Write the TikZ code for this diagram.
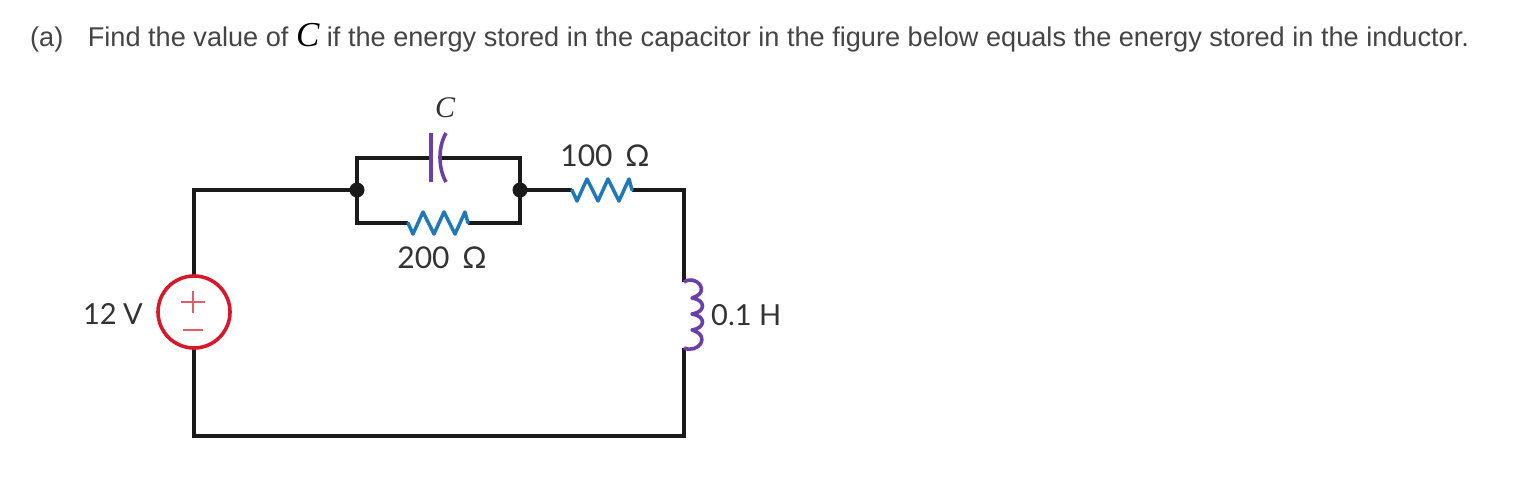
\documentclass[tikz,border=0pt]{standalone}
\usepackage{fontspec}
\setmainfont{Liberation Sans}
\newfontfamily\labelfont{Lato}
\newfontfamily\seriflabel{Liberation Serif}
\definecolor{wirecol}{HTML}{1A1A1A}
\definecolor{rescol}{HTML}{1F78B8}
\definecolor{purp}{HTML}{6A3FA8}
\definecolor{srccol}{HTML}{D7182A}
\definecolor{txt}{HTML}{444444}
\definecolor{lab}{HTML}{333333}
\tikzset{
  wire/.style={draw=wirecol,line width=4pt,line join=miter},
  res/.style={draw=rescol,line width=3.5pt,line join=round,line cap=round},
  comp/.style={draw=purp,line width=3.6pt},
  dotnode/.style={circle,fill=wirecol,inner sep=0pt,minimum size=15pt},
  clabel/.style={inner sep=0pt,text=lab,font=\labelfont\fontsize{29}{32}\selectfont},
  rlabel/.style={inner sep=0pt,text=lab,font=\labelfont\fontsize{30}{32}\selectfont},
}
\begin{document}
\begin{tikzpicture}[x=1pt,y=-1pt]
\useasboundingbox (0,0) rectangle (1516,477);
\fill[white] (0,0) rectangle (1516,477);
\node[anchor=west,inner sep=0pt,text=txt,font=\fontsize{27.14}{30}\selectfont] (q) at (30,38) {(a)\hspace{24.5pt}Find the value of {\seriflabel\itshape\fontsize{35}{35}\selectfont\color{black}C} if the energy stored in the capacitor in the figure below equals the energy stored in the inductor.};
% corners and terminals
\coordinate (tl) at (194,190);
\coordinate (bl) at (194,436);
\coordinate (br) at (684,436);
\coordinate (tr) at (684,190);
\coordinate (ut1) at (357,158);
\coordinate (ut2) at (520,158);
\coordinate (lt1) at (357,223);
\coordinate (lt2) at (520,223);
\coordinate (capa) at (431,158);
\coordinate (capb) at (441,158);
\coordinate (r2a) at (408,223);
\coordinate (r2b) at (468,223);
\coordinate (r1a) at (572,190);
\coordinate (r1b) at (632,190);
\coordinate (la) at (684,282);
\coordinate (lb) at (684,348);
\node[dotnode] (j1) at (357,190) {};
\node[dotnode] (j2) at (520,190) {};
\node[circle,minimum size=72pt,inner sep=0pt] (src) at (194,312) {};
% wires
\draw[wire] (src.north) -- (tl) -- (j1.center);
\draw[wire] (src.south) -- (bl) -- (br) -- (lb);
\draw[wire] (j1.center) -- (ut1) -- (capa);
\draw[wire] (capb) -- (ut2) -- (j2.center);
\draw[wire] (j1.center) -- (lt1) -- (r2a);
\draw[wire] (r2b) -- (lt2) -- (j2.center);
\draw[wire] (j2.center) -- (r1a);
\draw[wire] (r1b) -- (tr) -- (la);
\draw[draw=srccol,line width=3.6pt] (src.center) circle[radius=36pt];
% capacitor
\draw[comp] (431,133) -- (431,182);
\draw[comp] (446,133) .. controls (438,147) and (438,168) .. (446,182);
% resistors
\draw[res] (r2a) -- ++(5,11) -- ++(10,-22) -- ++(11,22) -- ++(10,-22) -- ++(11,22) -- ++(10,-22) -- (r2b);
\draw[res] (r1a) -- ++(5,11) -- ++(10,-22) -- ++(11,22) -- ++(10,-22) -- ++(11,22) -- ++(10,-22) -- (r1b);
% inductor
\draw[comp,line join=round] (la) .. controls (696,274) and (712,292) .. (692,298)
  .. controls (706,300) and (706,312) .. (692,314)
  .. controls (706,316) and (706,328) .. (692,330)
  .. controls (712,336) and (698,354) .. (lb);
% source signs
\draw[srccol!70!white,line width=2.8pt] (181,302) -- (205,302) (193,291) -- (193,313);
\draw[srccol!70!white,line width=2.8pt] (183,330) -- (203,330);
% labels
\node[inner sep=0pt,text=lab,font=\seriflabel\itshape\fontsize{30}{32}\selectfont] (cl) at (445,108) {C};
\node[rlabel] (l100) at (605,156) {100\hspace{5pt} Ω};
\node[rlabel] (l200) at (442,258) {200\hspace{5pt} Ω};
\node[clabel,anchor=east] (l12) at (143,314) {12\hspace{-1pt} V};
\node[clabel,anchor=west] (l01) at (711,315) {0.1 H};
\end{tikzpicture}
\end{document}
